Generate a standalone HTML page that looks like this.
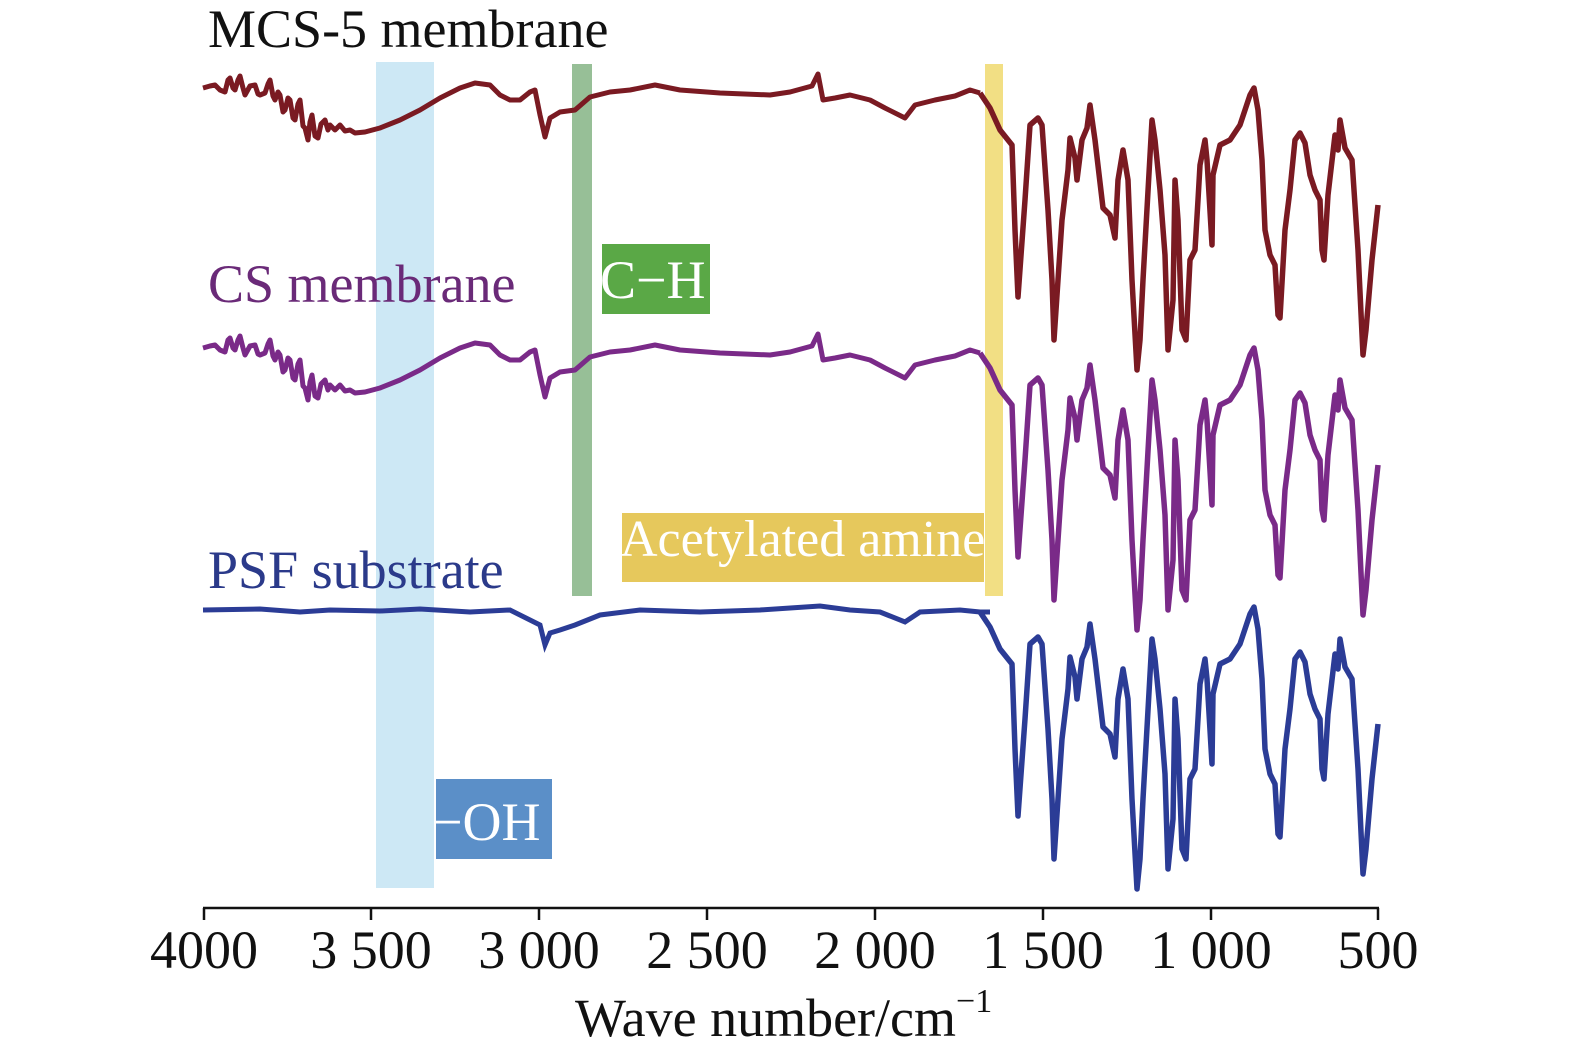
<!DOCTYPE html>
<html><head><meta charset="utf-8"><style>
html,body{margin:0;padding:0;background:#fff}
svg{display:block}
text{font-family:"Liberation Serif",serif}
</style></head><body>
<svg width="1575" height="1059" viewBox="0 0 1575 1059" xmlns="http://www.w3.org/2000/svg">
<defs>
<polyline id="fp" fill="none" stroke-width="5.5" stroke-linejoin="round" points="980,93 990,108 1000,130 1012,145 1015,230 1018,297 1025,200 1030,125 1038,118 1042,125 1048,210 1052,280 1054,340 1058,280 1062,220 1068,170 1070,138 1075,158 1077,180 1082,140 1087,128 1090,105 1095,140 1103,208 1110,215 1115,238 1118,180 1123,150 1128,180 1132,280 1137,370 1140,340 1143,280 1152,120 1155,140 1160,190 1165,255 1168,350 1173,300 1175,180 1178,220 1182,330 1186,340 1190,260 1195,250 1198,200 1200,165 1205,140 1207,160 1212,245 1213,175 1220,145 1230,140 1240,125 1250,95 1254,88 1258,110 1262,160 1265,230 1270,255 1275,265 1278,315 1280,318 1285,230 1290,190 1295,140 1300,133 1305,143 1310,175 1315,190 1320,200 1322,250 1324,260 1328,195 1335,135 1338,150 1340,120 1345,148 1352,160 1358,250 1363,355 1366,330 1372,260 1378,205"/>
<polyline id="lf" fill="none" stroke-width="5" stroke-linejoin="round" points="203,88 210,86 215,85 220,90 225,92 228,80 230,78 233,88 235,90 238,80 240,76 243,88 245,95 250,86 255,85 258,94 260,95 265,93 268,84 270,80 273,96 275,100 278,92 280,95 283,112 285,110 288,98 290,100 293,118 295,120 298,104 300,100 303,126 305,128 308,140 310,122 312,115 315,136 318,138 321,124 325,120 328,130 330,125 335,130 340,125 345,131 350,130 355,133 365,132 380,128 400,120 420,110 440,98 460,88 475,83 490,85 500,95 510,100 520,100 530,92 535,90 540,115 545,137 550,118 560,112 575,110 590,97 610,92 630,90 655,85 680,90 720,93 770,95 790,92 812,86 818,74 823,100 835,98 850,95 870,100 885,108 905,118 915,105 935,100 955,96 970,90 980,93"/>
</defs>
<rect x="376" y="62" width="58" height="826" fill="#cde8f5"/>
<rect x="572" y="64" width="20" height="532" fill="#97bf97"/>
<rect x="985" y="64" width="18" height="532" fill="#f2df84"/>
<use href="#lf" stroke="#7a1a22"/>
<use href="#fp" stroke="#7a1a22"/>
<g transform="translate(0,260)"><use href="#lf" stroke="#7a2a88"/><use href="#fp" stroke="#7a2a88"/></g>
<polyline fill="none" stroke="#2b3c96" stroke-width="5" points="203,610 260,609 300,612 330,610 380,611 420,609 470,612 510,610 530,620 540,625 545,645 550,633 560,630 575,625 600,615 640,610 700,612 760,610 820,606 850,610 880,612 905,622 920,612 960,610 980,612 990,612"/>
<g transform="translate(0,519)"><use href="#fp" stroke="#2b3c96"/></g>
<rect x="602" y="244" width="108" height="70" fill="#5aa846"/>
<text x="600" y="298" font-size="54" fill="#fff">C−H</text>
<rect x="622" y="513" width="362" height="69" fill="#e6c85c"/>
<text x="620" y="556" font-size="52" fill="#fff">Acetylated amine</text>
<rect x="436" y="779" width="116" height="80" fill="#5b8fc8"/>
<text x="432" y="840" font-size="54" fill="#fff">−OH</text>
<text x="208" y="47" font-size="54" fill="#111">MCS-5 membrane</text>
<text x="208" y="302" font-size="54" fill="#6a2a78">CS membrane</text>
<text x="208" y="588" font-size="54" fill="#2b3a8a">PSF substrate</text>
<line x1="203" y1="908" x2="1379" y2="908" stroke="#111" stroke-width="2.5"/>
<g stroke="#111" stroke-width="2.5">
<line x1="204" y1="908" x2="204" y2="920"/><line x1="371" y1="908" x2="371" y2="920"/><line x1="539" y1="908" x2="539" y2="920"/><line x1="707" y1="908" x2="707" y2="920"/><line x1="875" y1="908" x2="875" y2="920"/><line x1="1043" y1="908" x2="1043" y2="920"/><line x1="1211" y1="908" x2="1211" y2="920"/><line x1="1378" y1="908" x2="1378" y2="920"/>
</g>
<g font-size="54" fill="#111" text-anchor="middle">
<text x="204" y="968">4000</text><text x="371" y="968">3 500</text><text x="539" y="968">3 000</text><text x="707" y="968">2 500</text><text x="875" y="968">2 000</text><text x="1043" y="968">1 500</text><text x="1211" y="968">1 000</text><text x="1378" y="968">500</text>
</g>
<text x="575" y="1036" font-size="54" fill="#111">Wave number/cm<tspan dy="-24" font-size="34">−1</tspan></text>
</svg>
</body></html>
